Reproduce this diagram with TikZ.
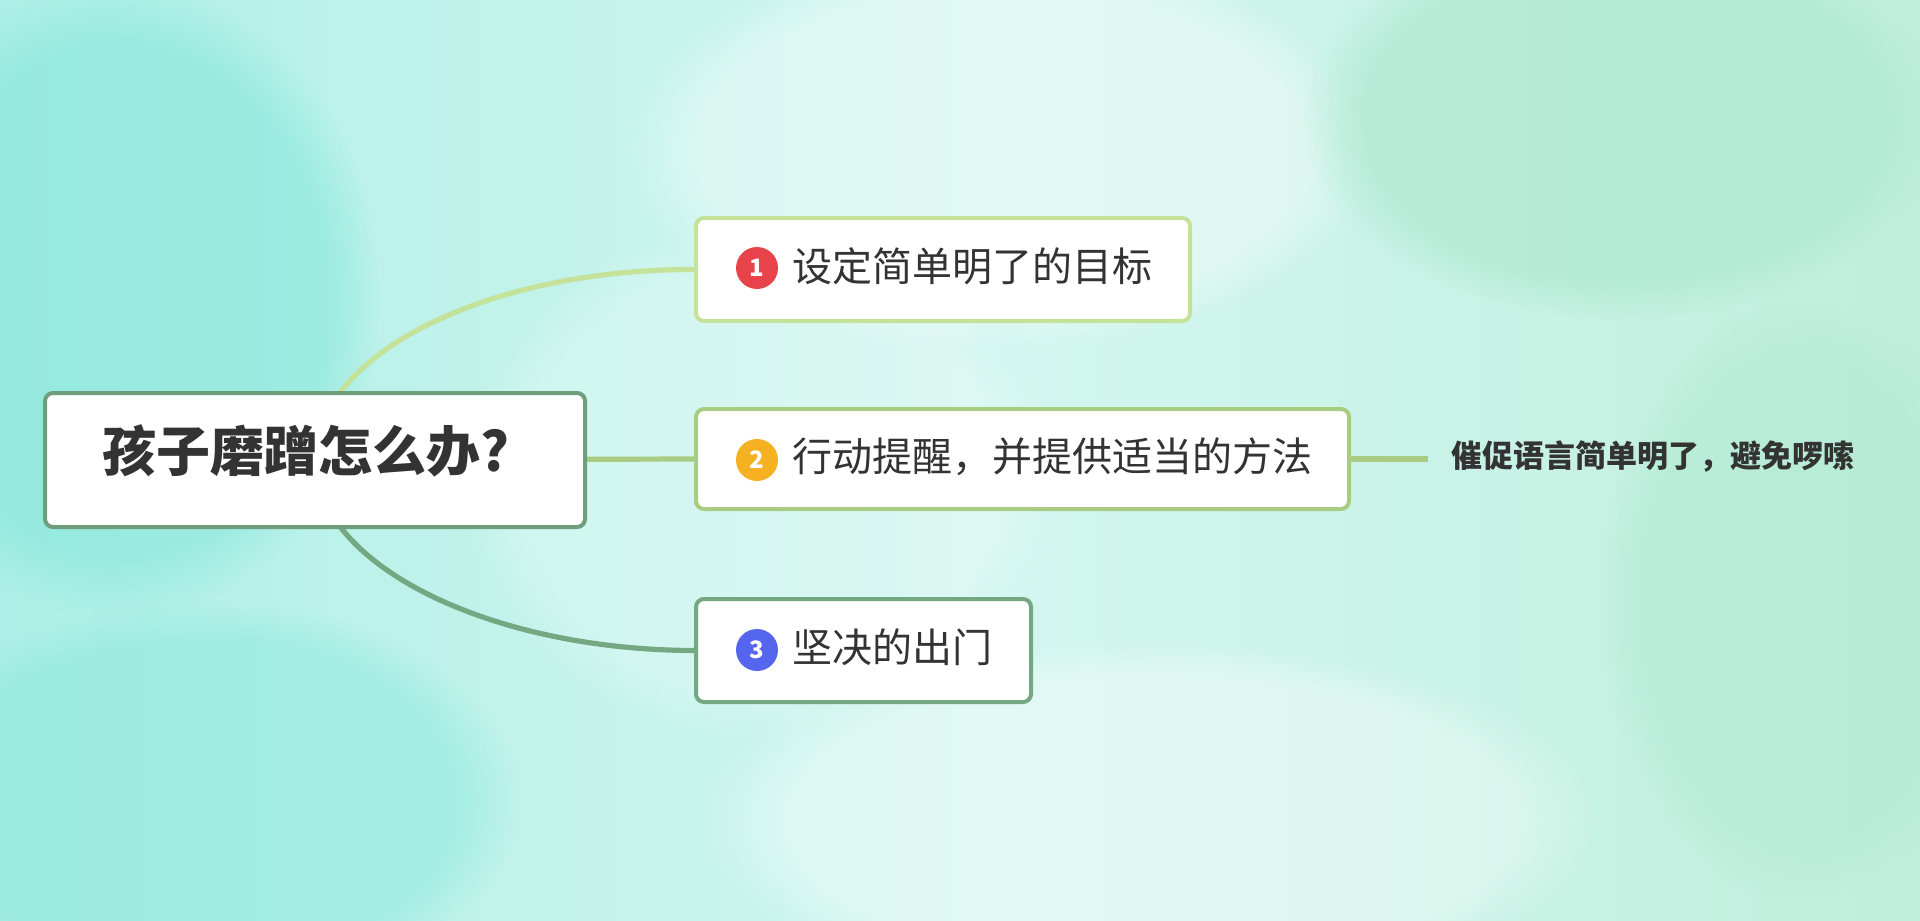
\documentclass[tikz,border=0pt]{standalone}
\usepackage{fontspec}
\newfontfamily\cjk{Noto Sans CJK SC}
\usetikzlibrary{fadings}
\definecolor{bgA}{HTML}{80E5DA}
\definecolor{bgB}{HTML}{B6F1E8}
\definecolor{bgC}{HTML}{D2F6EF}
\definecolor{bgD}{HTML}{BFEFDC}
\definecolor{bgE}{HTML}{A9E7CE}
\definecolor{lineA}{HTML}{C5E29A}
\definecolor{lineB}{HTML}{A8CC82}
\definecolor{lineC}{HTML}{74A882}
\definecolor{rootB}{HTML}{6F9E7C}
\definecolor{txt}{HTML}{333333}
\definecolor{badgeR}{HTML}{E8434B}
\definecolor{badgeO}{HTML}{F5B122}
\definecolor{badgeB}{HTML}{5566EE}
\pgfdeclarehorizontalshading{bgshade}{100bp}{color(0bp)=(bgA); color(30bp)=(bgB); color(52bp)=(bgC); color(75bp)=(bgD); color(100bp)=(bgE)}
\pgfdeclarelayer{bgimg}
\pgfdeclarelayer{edges}
\pgfsetlayers{bgimg,edges,main}
\tikzset{
  boxA/.style={draw=#1, line width=2pt, fill=white, rounded corners=4pt, inner sep=0pt},
  badge/.style={circle, fill=#1, minimum size=21pt, inner sep=0pt, text=white, font=\cjk\bfseries\fontsize{12}{12}\selectfont},
  itemtxt/.style={anchor=west, inner sep=0pt, text=txt, font=\cjk\fontsize{20}{24}\selectfont},
  conn/.style={line width=2.6pt, draw=#1, line cap=round},
  blob/.style={fill=#1, path fading=circle with fuzzy edge 20 percent},
}
\begin{document}
\begin{tikzpicture}[x=0.5pt,y=-0.5pt]
\useasboundingbox (0,0) rectangle (1920,920);
\begin{pgfonlayer}{bgimg}
\begin{scope}
\clip (0,0) rectangle (1920,920);
\shade[shading=bgshade] (0,0) rectangle (1920,920);
\fill[blob=white, opacity=0.35] (1000,150) ellipse (380 and 200);
\fill[blob=white, opacity=0.35] (1150,820) ellipse (450 and 180);
\fill[blob=white, opacity=0.25] (760,480) ellipse (300 and 260);
\fill[blob=bgA, opacity=0.5] (120,300) ellipse (260 and 320);
\fill[blob=bgA, opacity=0.4] (200,800) ellipse (320 and 200);
\fill[blob=bgE, opacity=0.6] (1620,120) ellipse (320 and 200);
\fill[blob=bgE, opacity=0.4] (1800,600) ellipse (200 and 300);
\end{scope}
\end{pgfonlayer}

% root
\node[boxA=rootB, minimum width=270pt, minimum height=67pt] (root) at (315,460) {};
\node[inner sep=0pt, text=txt, font=\cjk\bfseries\fontsize{27}{31}\selectfont] (roottxt) at (306,451) {孩子磨蹭怎么办?};

% item 1
\node[boxA=lineA, minimum width=247pt, minimum height=51.5pt] (b1) at (943,269.5) {};
\node[badge=badgeR] (n1) at (757,268) {1};
\node[itemtxt] (t1) at (792,266) {设定简单明了的目标};

% item 2
\node[boxA=lineB, minimum width=326.5pt, minimum height=50pt] (b2) at (1022.5,459) {};
\node[badge=badgeO] (n2) at (757,460) {2};
\node[itemtxt] (t2) at (792,457) {行动提醒，并提供适当的方法};

% item 3
\node[boxA=lineC, minimum width=167.5pt, minimum height=51.5pt] (b3) at (863.5,650.5) {};
\node[badge=badgeB] (n3) at (757,650) {3};
\node[itemtxt] (t3) at (792,647) {坚决的出门};

% sub label
\coordinate (subend) at (1428,459);
\node[anchor=west, inner sep=0pt, text=txt, font=\cjk\bfseries\fontsize{15.5}{18}\selectfont] (sub) at (1451,457) {催促语言简单明了，避免啰嗦};

\begin{pgfonlayer}{edges}
\draw[conn=lineA] (root.center) .. controls (316,354) and (488,269) .. (b1.west);
\draw[conn=lineB] (root.center) -- (b2.west);
\draw[conn=lineC] (root.center) .. controls (316,564) and (488,650) .. (b3.west);
\draw[conn=lineB, line cap=butt] (b2.east) -- (subend);
\end{pgfonlayer}
\end{tikzpicture}
\end{document}
